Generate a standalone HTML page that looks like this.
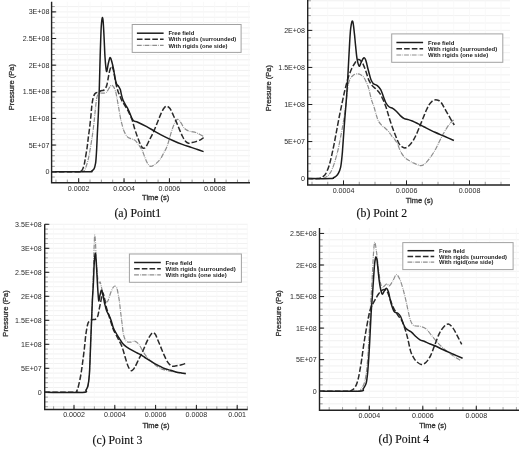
<!DOCTYPE html>
<html><head><meta charset="utf-8"><style>
html,body{margin:0;padding:0;background:#fff;}
body{width:520px;height:450px;overflow:hidden;}
svg{display:block;filter:blur(0.25px);}
.tk{font-family:"Liberation Sans",Arial,sans-serif;font-size:7.1px;fill:#2a2a2a;}
.at{font-family:"Liberation Sans",Arial,sans-serif;font-size:7.5px;fill:#2a2a2a;stroke:#333;stroke-width:0.3px;}
.lg{font-family:"Liberation Sans",Arial,sans-serif;font-size:5.9px;font-weight:bold;fill:#1a1a1a;}
.cap{font-family:"Liberation Serif","Times New Roman",serif;font-size:11.8px;fill:#111;stroke:#111;stroke-width:0.15px;}
</style></head><body>
<svg width="520" height="450" viewBox="0 0 520 450">
<path d="M51.6 177.03H250M51.6 171.7H250M51.6 166.37H250M51.6 161.05H250M51.6 155.72H250M51.6 150.39H250M51.6 145.06H250M51.6 139.74H250M51.6 134.41H250M51.6 129.08H250M51.6 123.76H250M51.6 118.43H250M51.6 113.1H250M51.6 107.78H250M51.6 102.45H250M51.6 97.12H250M51.6 91.79H250M51.6 86.47H250M51.6 81.14H250M51.6 75.81H250M51.6 70.49H250M51.6 65.16H250M51.6 59.83H250M51.6 54.51H250M51.6 49.18H250M51.6 43.85H250M51.6 38.52H250M51.6 33.2H250M51.6 27.87H250M51.6 22.54H250M51.6 17.22H250M51.6 11.89H250M51.6 6.56H250" stroke="#eeeeee" stroke-width="0.8" fill="none"/>
<path d="M55.98 1.8V182.8M67.33 1.8V182.8M78.67 1.8V182.8M90.01 1.8V182.8M101.36 1.8V182.8M112.7 1.8V182.8M124.04 1.8V182.8M135.38 1.8V182.8M146.72 1.8V182.8M158.07 1.8V182.8M169.41 1.8V182.8M180.75 1.8V182.8M192.09 1.8V182.8M203.44 1.8V182.8M214.78 1.8V182.8M226.12 1.8V182.8M237.46 1.8V182.8M248.81 1.8V182.8" stroke="#f7f7f7" stroke-width="0.8" fill="none"/>
<path d="M51.30 171.70 C56.33 171.70 76.13 171.82 81.50 171.70 C86.87 171.58 82.92 171.33 83.50 171.00 C84.08 170.67 84.20 171.70 85.00 169.70 C85.80 167.70 87.30 163.23 88.30 159.00 C89.30 154.77 90.22 148.97 91.00 144.30 C91.78 139.63 92.40 135.55 93.00 131.00 C93.60 126.45 94.15 121.17 94.60 117.00 C95.05 112.83 95.33 109.17 95.70 106.00 C96.07 102.83 96.37 100.00 96.80 98.00 C97.23 96.00 97.68 94.83 98.30 94.00 C98.92 93.17 99.63 93.13 100.50 93.00 C101.37 92.87 102.53 93.30 103.50 93.20 C104.47 93.10 105.50 93.02 106.30 92.40 C107.10 91.78 107.60 90.57 108.30 89.50 C109.00 88.43 109.88 86.70 110.50 86.00 C111.12 85.30 111.53 85.22 112.00 85.30 C112.47 85.38 112.72 85.55 113.30 86.50 C113.88 87.45 114.83 88.75 115.50 91.00 C116.17 93.25 116.75 97.08 117.30 100.00 C117.85 102.92 118.30 105.67 118.80 108.50 C119.30 111.33 119.85 114.67 120.30 117.00 C120.75 119.33 120.90 120.20 121.50 122.50 C122.10 124.80 122.92 128.42 123.90 130.80 C124.88 133.18 126.13 135.47 127.40 136.80 C128.67 138.13 130.22 138.20 131.50 138.80 C132.78 139.40 133.88 139.37 135.10 140.40 C136.32 141.43 137.62 143.33 138.80 145.00 C139.98 146.67 141.18 148.32 142.20 150.40 C143.22 152.48 144.02 155.35 144.90 157.50 C145.78 159.65 146.55 161.82 147.50 163.30 C148.45 164.78 149.42 166.17 150.60 166.40 C151.78 166.63 153.03 165.85 154.60 164.70 C156.17 163.55 158.43 161.53 160.00 159.50 C161.57 157.47 162.80 154.75 164.00 152.50 C165.20 150.25 165.95 149.50 167.20 146.00 C168.45 142.50 170.37 135.08 171.50 131.50 C172.63 127.92 173.20 126.38 174.00 124.50 C174.80 122.62 175.58 121.02 176.30 120.20 C177.02 119.38 177.52 119.17 178.30 119.60 C179.08 120.03 180.05 121.43 181.00 122.80 C181.95 124.17 182.95 126.53 184.00 127.80 C185.05 129.07 186.13 129.77 187.30 130.40 C188.47 131.03 189.58 131.25 191.00 131.60 C192.42 131.95 194.37 132.05 195.80 132.50 C197.23 132.95 198.30 133.65 199.60 134.30 C200.90 134.95 202.93 136.05 203.60 136.40" stroke="#8e8e8e" stroke-width="1.2" fill="none" stroke-linejoin="round" stroke-dasharray="4.8 1.2 0.7 1.0"/>
<path d="M51.30 171.70 C55.92 171.70 74.05 171.78 79.00 171.70 C83.95 171.62 80.42 171.57 81.00 171.20 C81.58 170.83 82.00 170.45 82.50 169.50 C83.00 168.55 83.58 167.03 84.00 165.50 C84.42 163.97 84.50 163.17 85.00 160.30 C85.50 157.43 86.45 152.07 87.00 148.30 C87.55 144.53 87.85 141.25 88.30 137.70 C88.75 134.15 89.25 130.78 89.70 127.00 C90.15 123.22 90.65 118.50 91.00 115.00 C91.35 111.50 91.47 108.75 91.80 106.00 C92.13 103.25 92.52 100.50 93.00 98.50 C93.48 96.50 94.12 94.98 94.70 94.00 C95.28 93.02 95.87 92.90 96.50 92.60 C97.13 92.30 97.75 92.50 98.50 92.20 C99.25 91.90 100.17 91.12 101.00 90.80 C101.83 90.48 102.75 90.72 103.50 90.30 C104.25 89.88 104.92 89.27 105.50 88.30 C106.08 87.33 106.52 86.38 107.00 84.50 C107.48 82.62 107.92 79.42 108.40 77.00 C108.88 74.58 109.37 71.78 109.90 70.00 C110.43 68.22 111.08 66.52 111.60 66.30 C112.12 66.08 112.55 67.33 113.00 68.70 C113.45 70.07 113.82 72.03 114.30 74.50 C114.78 76.97 115.30 80.75 115.90 83.50 C116.50 86.25 117.27 89.00 117.90 91.00 C118.53 93.00 118.97 93.75 119.70 95.50 C120.43 97.25 121.33 99.67 122.30 101.50 C123.27 103.33 124.42 104.70 125.50 106.50 C126.58 108.30 127.73 110.17 128.80 112.30 C129.87 114.43 130.95 116.65 131.90 119.30 C132.85 121.95 133.62 125.38 134.50 128.20 C135.38 131.02 136.30 133.68 137.20 136.20 C138.10 138.72 139.10 141.47 139.90 143.30 C140.70 145.13 141.38 146.37 142.00 147.20 C142.62 148.03 142.93 148.37 143.60 148.30 C144.27 148.23 145.00 148.23 146.00 146.80 C147.00 145.37 148.40 142.07 149.60 139.70 C150.80 137.33 151.87 135.55 153.20 132.60 C154.53 129.65 156.27 125.25 157.60 122.00 C158.93 118.75 160.08 115.47 161.20 113.10 C162.32 110.73 163.37 108.95 164.30 107.80 C165.23 106.65 165.85 106.08 166.80 106.20 C167.75 106.32 168.92 107.00 170.00 108.50 C171.08 110.00 172.22 112.88 173.30 115.20 C174.38 117.52 175.47 120.00 176.50 122.40 C177.53 124.80 178.53 127.33 179.50 129.60 C180.47 131.87 181.30 134.05 182.30 136.00 C183.30 137.95 184.47 140.10 185.50 141.30 C186.53 142.50 187.42 142.98 188.50 143.20 C189.58 143.42 190.78 142.87 192.00 142.60 C193.22 142.33 194.40 142.07 195.80 141.60 C197.20 141.13 199.10 140.47 200.40 139.80 C201.70 139.13 203.07 137.97 203.60 137.60" stroke="#2a2a2a" stroke-width="1.5" fill="none" stroke-linejoin="round" stroke-dasharray="5.6 2.1"/>
<path d="M51.30 171.70 C57.47 171.72 81.60 171.88 88.30 171.80 C95.00 171.72 90.62 171.57 91.50 171.20 C92.38 170.83 93.08 170.20 93.60 169.60 C94.12 169.00 94.32 168.45 94.60 167.60 C94.88 166.75 95.10 165.48 95.30 164.50 C95.50 163.52 95.63 163.28 95.80 161.70 C95.97 160.12 96.15 157.22 96.30 155.00 C96.45 152.78 96.53 151.73 96.70 148.40 C96.87 145.07 97.12 138.90 97.30 135.00 C97.48 131.10 97.63 128.33 97.80 125.00 C97.97 121.67 98.12 119.17 98.30 115.00 C98.48 110.83 98.72 105.00 98.90 100.00 C99.08 95.00 99.25 90.00 99.40 85.00 C99.55 80.00 99.67 75.00 99.80 70.00 C99.93 65.00 100.05 60.00 100.20 55.00 C100.35 50.00 100.52 44.83 100.70 40.00 C100.88 35.17 101.03 29.72 101.30 26.00 C101.57 22.28 101.98 18.37 102.30 17.70 C102.62 17.03 102.90 18.62 103.20 22.00 C103.50 25.38 103.80 32.17 104.10 38.00 C104.40 43.83 104.68 51.92 105.00 57.00 C105.32 62.08 105.70 66.12 106.00 68.50 C106.30 70.88 106.43 72.05 106.80 71.30 C107.17 70.55 107.73 66.13 108.20 64.00 C108.67 61.87 109.23 59.53 109.60 58.50 C109.97 57.47 110.05 57.33 110.40 57.80 C110.75 58.27 111.17 59.38 111.70 61.30 C112.23 63.22 113.05 66.52 113.60 69.30 C114.15 72.08 114.52 75.58 115.00 78.00 C115.48 80.42 115.92 82.43 116.50 83.80 C117.08 85.17 117.87 85.25 118.50 86.20 C119.13 87.15 119.80 88.03 120.30 89.50 C120.80 90.97 121.05 93.25 121.50 95.00 C121.95 96.75 122.33 98.37 123.00 100.00 C123.67 101.63 124.75 103.47 125.50 104.80 C126.25 106.13 126.83 106.72 127.50 108.00 C128.17 109.28 128.77 110.78 129.50 112.50 C130.23 114.22 131.12 116.85 131.90 118.30 C132.68 119.75 133.22 120.55 134.20 121.20 C135.18 121.85 135.72 121.30 137.80 122.20 C139.88 123.10 143.73 125.00 146.70 126.60 C149.67 128.20 152.63 130.13 155.60 131.80 C158.57 133.47 161.53 135.10 164.50 136.60 C167.47 138.10 170.43 139.50 173.40 140.80 C176.37 142.10 179.33 143.30 182.30 144.40 C185.27 145.50 188.67 146.55 191.20 147.40 C193.73 148.25 195.43 148.80 197.50 149.50 C199.57 150.20 202.58 151.25 203.60 151.60" stroke="#1c1c1c" stroke-width="1.5" fill="none" stroke-linejoin="round"/>
<path d="M51.6 177.03h3.2M51.6 171.7h3.2M51.6 166.37h3.2M51.6 161.05h3.2M51.6 155.72h3.2M51.6 150.39h3.2M51.6 145.06h3.2M51.6 139.74h3.2M51.6 134.41h3.2M51.6 129.08h3.2M51.6 123.76h3.2M51.6 118.43h3.2M51.6 113.1h3.2M51.6 107.78h3.2M51.6 102.45h3.2M51.6 97.12h3.2M51.6 91.79h3.2M51.6 86.47h3.2M51.6 81.14h3.2M51.6 75.81h3.2M51.6 70.49h3.2M51.6 65.16h3.2M51.6 59.83h3.2M51.6 54.51h3.2M51.6 49.18h3.2M51.6 43.85h3.2M51.6 38.52h3.2M51.6 33.2h3.2M51.6 27.87h3.2M51.6 22.54h3.2M51.6 17.22h3.2M51.6 11.89h3.2M51.6 6.56h3.2M55.98 182.8v-3.2M67.33 182.8v-3.2M78.67 182.8v-3.2M90.01 182.8v-3.2M101.36 182.8v-3.2M112.7 182.8v-3.2M124.04 182.8v-3.2M135.38 182.8v-3.2M146.72 182.8v-3.2M158.07 182.8v-3.2M169.41 182.8v-3.2M180.75 182.8v-3.2M192.09 182.8v-3.2M203.44 182.8v-3.2M214.78 182.8v-3.2M226.12 182.8v-3.2M237.46 182.8v-3.2M248.81 182.8v-3.2" stroke="#858585" stroke-width="0.8" fill="none"/>
<path d="M51.6 171.7h4.6M51.6 145.06h4.6M51.6 118.43h4.6M51.6 91.79h4.6M51.6 65.16h4.6M51.6 38.52h4.6M51.6 11.89h4.6M78.67 182.8v-4.6M124.04 182.8v-4.6M169.41 182.8v-4.6M214.78 182.8v-4.6" stroke="#222" stroke-width="1" fill="none"/>
<path d="M51.6 1.8V182.8H250" stroke="#222" stroke-width="1.4" fill="none"/>
<text x="49.4" y="174.2" class="tk" text-anchor="end">0</text>
<text x="49.4" y="147.56" class="tk" text-anchor="end">5E+07</text>
<text x="49.4" y="120.93" class="tk" text-anchor="end">1E+08</text>
<text x="49.4" y="94.29" class="tk" text-anchor="end">1.5E+08</text>
<text x="49.4" y="67.66" class="tk" text-anchor="end">2E+08</text>
<text x="49.4" y="41.02" class="tk" text-anchor="end">2.5E+08</text>
<text x="49.4" y="14.39" class="tk" text-anchor="end">3E+08</text>
<text x="78.67" y="191" class="tk" text-anchor="middle">0.0002</text>
<text x="124.04" y="191" class="tk" text-anchor="middle">0.0004</text>
<text x="169.41" y="191" class="tk" text-anchor="middle">0.0006</text>
<text x="214.78" y="191" class="tk" text-anchor="middle">0.0008</text>
<text x="0" y="0" class="at" text-anchor="middle" transform="translate(14.3 87.2) rotate(-90)">Pressure (Pa)</text>
<text x="155.7" y="200.3" class="at" text-anchor="middle">Time (s)</text>
<rect x="132.2" y="24.5" width="108.9" height="27.9" fill="#fff" stroke="#a2a2a2" stroke-width="1"/>
<path d="M136.9 33.2h26.7" stroke="#1c1c1c" stroke-width="1.5"/>
<text x="168.4" y="35.3" class="lg" style="font-size:5.82px">Free field</text>
<path d="M136.9 39.3h26.7" stroke="#2a2a2a" stroke-width="1.5" stroke-dasharray="5.6 2.1"/>
<text x="168.4" y="41.4" class="lg" style="font-size:5.82px">With rigids (surrounded)</text>
<path d="M136.9 45.4h26.7" stroke="#8e8e8e" stroke-width="1.2" stroke-dasharray="4.8 1.2 0.7 1.0"/>
<text x="168.4" y="47.5" class="lg" style="font-size:5.82px">With rigids (one side)</text>
<text x="114.4" y="216.6" class="cap">(a) Point1</text>
<path d="M307.7 178.6H510M307.7 171.19H510M307.7 163.78H510M307.7 156.37H510M307.7 148.96H510M307.7 141.55H510M307.7 134.14H510M307.7 126.73H510M307.7 119.32H510M307.7 111.91H510M307.7 104.5H510M307.7 97.09H510M307.7 89.68H510M307.7 82.27H510M307.7 74.86H510M307.7 67.45H510M307.7 60.04H510M307.7 52.63H510M307.7 45.22H510M307.7 37.81H510M307.7 30.4H510M307.7 22.99H510M307.7 15.58H510M307.7 8.17H510M307.7 0.76H510" stroke="#eeeeee" stroke-width="0.8" fill="none"/>
<path d="M312 0V185M327.75 0V185M343.5 0V185M359.25 0V185M375 0V185M390.75 0V185M406.5 0V185M422.25 0V185M438 0V185M453.75 0V185M469.5 0V185M485.25 0V185M501 0V185" stroke="#f7f7f7" stroke-width="0.8" fill="none"/>
<path d="M307.70 178.60 C310.08 178.60 319.12 178.78 322.00 178.60 C324.88 178.42 324.08 177.92 325.00 177.50 C325.92 177.08 326.53 177.02 327.50 176.10 C328.47 175.18 329.68 174.08 330.80 172.00 C331.92 169.92 333.08 166.93 334.20 163.60 C335.32 160.27 336.53 155.88 337.50 152.00 C338.47 148.12 339.17 144.47 340.00 140.30 C340.83 136.13 341.73 131.33 342.50 127.00 C343.27 122.67 344.02 118.25 344.60 114.30 C345.18 110.35 345.57 106.97 346.00 103.30 C346.43 99.63 346.82 95.47 347.20 92.30 C347.58 89.13 347.82 86.52 348.30 84.30 C348.78 82.08 349.22 80.57 350.10 79.00 C350.98 77.43 352.42 75.75 353.60 74.90 C354.78 74.05 356.02 73.93 357.20 73.90 C358.38 73.87 359.52 74.00 360.70 74.70 C361.88 75.40 363.28 76.67 364.30 78.10 C365.32 79.53 366.07 81.60 366.80 83.30 C367.53 85.00 367.95 85.68 368.70 88.30 C369.45 90.92 370.42 95.88 371.30 99.00 C372.18 102.12 373.10 104.12 374.00 107.00 C374.90 109.88 375.92 113.87 376.70 116.30 C377.48 118.73 377.82 120.05 378.70 121.60 C379.58 123.15 380.90 124.48 382.00 125.60 C383.10 126.72 384.18 127.30 385.30 128.30 C386.42 129.30 387.58 130.27 388.70 131.60 C389.82 132.93 390.95 134.93 392.00 136.30 C393.05 137.67 394.05 138.47 395.00 139.80 C395.95 141.13 396.82 142.43 397.70 144.30 C398.58 146.17 399.20 148.88 400.30 151.00 C401.40 153.12 402.73 155.33 404.30 157.00 C405.87 158.67 407.92 159.90 409.70 161.00 C411.48 162.10 413.23 162.83 415.00 163.60 C416.77 164.37 418.75 165.48 420.30 165.60 C421.85 165.72 422.73 165.52 424.30 164.30 C425.87 163.08 427.92 160.63 429.70 158.30 C431.48 155.97 433.45 152.97 435.00 150.30 C436.55 147.63 437.67 144.97 439.00 142.30 C440.33 139.63 441.67 136.75 443.00 134.30 C444.33 131.85 445.67 129.60 447.00 127.60 C448.33 125.60 449.87 123.58 451.00 122.30 C452.13 121.02 453.33 120.30 453.80 119.90" stroke="#8e8e8e" stroke-width="1.2" fill="none" stroke-linejoin="round" stroke-dasharray="4.8 1.2 0.7 1.0"/>
<path d="M307.70 178.60 C309.42 178.60 315.87 178.72 318.00 178.60 C320.13 178.48 319.75 178.17 320.50 177.90 C321.25 177.63 321.62 177.72 322.50 177.00 C323.38 176.28 324.68 175.55 325.80 173.60 C326.92 171.65 328.22 168.35 329.20 165.30 C330.18 162.25 330.87 158.92 331.70 155.30 C332.53 151.68 333.37 147.77 334.20 143.60 C335.03 139.43 335.87 134.73 336.70 130.30 C337.53 125.87 338.45 120.83 339.20 117.00 C339.95 113.17 340.48 110.75 341.20 107.30 C341.92 103.85 342.77 99.63 343.50 96.30 C344.23 92.97 344.80 90.47 345.60 87.30 C346.40 84.13 347.25 80.47 348.30 77.30 C349.35 74.13 350.72 70.82 351.90 68.30 C353.08 65.78 354.37 63.67 355.40 62.20 C356.43 60.73 357.28 59.82 358.10 59.50 C358.92 59.18 359.42 59.42 360.30 60.30 C361.18 61.18 362.43 62.87 363.40 64.80 C364.37 66.73 365.22 69.38 366.10 71.90 C366.98 74.42 367.68 77.62 368.70 79.90 C369.72 82.18 370.98 84.08 372.20 85.60 C373.42 87.12 374.70 87.67 376.00 89.00 C377.30 90.33 378.78 91.72 380.00 93.60 C381.22 95.48 382.30 98.07 383.30 100.30 C384.30 102.53 385.22 104.78 386.00 107.00 C386.78 109.22 387.33 111.38 388.00 113.60 C388.67 115.82 389.22 117.85 390.00 120.30 C390.78 122.75 391.82 125.85 392.70 128.30 C393.58 130.75 394.25 132.45 395.30 135.00 C396.35 137.55 397.72 141.53 399.00 143.60 C400.28 145.67 401.88 146.70 403.00 147.40 C404.12 148.10 404.58 148.20 405.70 147.80 C406.82 147.40 408.37 146.37 409.70 145.00 C411.03 143.63 412.48 141.60 413.70 139.60 C414.92 137.60 415.90 135.43 417.00 133.00 C418.10 130.57 419.30 127.45 420.30 125.00 C421.30 122.55 422.00 120.75 423.00 118.30 C424.00 115.85 425.30 112.55 426.30 110.30 C427.30 108.05 428.05 106.30 429.00 104.80 C429.95 103.30 431.00 102.12 432.00 101.30 C433.00 100.48 434.00 100.07 435.00 99.90 C436.00 99.73 437.00 99.90 438.00 100.30 C439.00 100.70 439.72 100.63 441.00 102.30 C442.28 103.97 444.03 107.42 445.70 110.30 C447.37 113.18 449.57 117.15 451.00 119.60 C452.43 122.05 453.75 124.10 454.30 125.00" stroke="#2a2a2a" stroke-width="1.5" fill="none" stroke-linejoin="round" stroke-dasharray="5.6 2.1"/>
<path d="M307.70 178.60 C311.53 178.60 326.40 178.75 330.70 178.60 C335.00 178.45 332.62 178.08 333.50 177.70 C334.38 177.32 335.15 177.10 336.00 176.30 C336.85 175.50 337.83 174.40 338.60 172.90 C339.37 171.40 340.10 169.40 340.60 167.30 C341.10 165.20 341.30 162.85 341.60 160.30 C341.90 157.75 342.07 156.17 342.40 152.00 C342.73 147.83 343.20 140.87 343.60 135.30 C344.00 129.73 344.40 123.77 344.80 118.60 C345.20 113.43 345.65 108.68 346.00 104.30 C346.35 99.92 346.60 96.85 346.90 92.30 C347.20 87.75 347.50 82.33 347.80 77.00 C348.10 71.67 348.40 65.87 348.70 60.30 C349.00 54.73 349.32 48.43 349.60 43.60 C349.88 38.77 350.13 34.43 350.40 31.30 C350.67 28.17 350.90 26.52 351.20 24.80 C351.50 23.08 351.88 21.33 352.20 21.00 C352.52 20.67 352.83 21.62 353.10 22.80 C353.37 23.98 353.53 25.85 353.80 28.10 C354.07 30.35 354.40 33.33 354.70 36.30 C355.00 39.27 355.20 42.08 355.60 45.90 C356.00 49.72 356.50 55.83 357.10 59.20 C357.70 62.57 358.53 65.55 359.20 66.10 C359.87 66.65 360.47 63.72 361.10 62.50 C361.73 61.28 362.45 59.57 363.00 58.80 C363.55 58.03 363.97 57.73 364.40 57.90 C364.83 58.07 365.22 58.85 365.60 59.80 C365.98 60.75 366.33 62.18 366.70 63.60 C367.07 65.02 367.33 66.43 367.80 68.30 C368.27 70.17 368.97 72.88 369.50 74.80 C370.03 76.72 370.37 78.33 371.00 79.80 C371.63 81.27 372.25 82.63 373.30 83.60 C374.35 84.57 376.07 84.60 377.30 85.60 C378.53 86.60 379.70 87.82 380.70 89.60 C381.70 91.38 382.42 94.07 383.30 96.30 C384.18 98.53 385.00 101.22 386.00 103.00 C387.00 104.78 388.18 106.12 389.30 107.00 C390.42 107.88 391.58 107.63 392.70 108.30 C393.82 108.97 394.73 109.78 396.00 111.00 C397.27 112.22 398.92 114.33 400.30 115.60 C401.68 116.87 402.97 117.93 404.30 118.60 C405.63 119.27 406.97 119.20 408.30 119.60 C409.63 120.00 410.73 120.33 412.30 121.00 C413.87 121.67 415.70 122.60 417.70 123.60 C419.70 124.60 421.42 125.55 424.30 127.00 C427.18 128.45 431.67 130.75 435.00 132.30 C438.33 133.85 441.15 134.93 444.30 136.30 C447.45 137.67 452.30 139.80 453.90 140.50" stroke="#1c1c1c" stroke-width="1.5" fill="none" stroke-linejoin="round"/>
<path d="M307.7 178.6h3.2M307.7 171.19h3.2M307.7 163.78h3.2M307.7 156.37h3.2M307.7 148.96h3.2M307.7 141.55h3.2M307.7 134.14h3.2M307.7 126.73h3.2M307.7 119.32h3.2M307.7 111.91h3.2M307.7 104.5h3.2M307.7 97.09h3.2M307.7 89.68h3.2M307.7 82.27h3.2M307.7 74.86h3.2M307.7 67.45h3.2M307.7 60.04h3.2M307.7 52.63h3.2M307.7 45.22h3.2M307.7 37.81h3.2M307.7 30.4h3.2M307.7 22.99h3.2M307.7 15.58h3.2M307.7 8.17h3.2M307.7 0.76h3.2M312 185v-3.2M327.75 185v-3.2M343.5 185v-3.2M359.25 185v-3.2M375 185v-3.2M390.75 185v-3.2M406.5 185v-3.2M422.25 185v-3.2M438 185v-3.2M453.75 185v-3.2M469.5 185v-3.2M485.25 185v-3.2M501 185v-3.2" stroke="#858585" stroke-width="0.8" fill="none"/>
<path d="M307.7 178.6h4.6M307.7 141.55h4.6M307.7 104.5h4.6M307.7 67.45h4.6M307.7 30.4h4.6M343.5 185v-4.6M406.5 185v-4.6M469.5 185v-4.6" stroke="#222" stroke-width="1" fill="none"/>
<path d="M307.7 0V185H510" stroke="#222" stroke-width="1.4" fill="none"/>
<text x="304.9" y="181.1" class="tk" text-anchor="end">0</text>
<text x="304.9" y="144.05" class="tk" text-anchor="end">5E+07</text>
<text x="304.9" y="107" class="tk" text-anchor="end">1E+08</text>
<text x="304.9" y="69.95" class="tk" text-anchor="end">1.5E+08</text>
<text x="304.9" y="32.9" class="tk" text-anchor="end">2E+08</text>
<text x="343.5" y="192.8" class="tk" text-anchor="middle">0.0004</text>
<text x="406.5" y="192.8" class="tk" text-anchor="middle">0.0006</text>
<text x="469.5" y="192.8" class="tk" text-anchor="middle">0.0008</text>
<text x="0" y="0" class="at" text-anchor="middle" transform="translate(270.8 88.2) rotate(-90)">Pressure (Pa)</text>
<text x="419.4" y="202.8" class="at" text-anchor="middle">Time (s)</text>
<rect x="391.7" y="33.9" width="111.1" height="28.4" fill="#fff" stroke="#a2a2a2" stroke-width="1"/>
<path d="M396.4 42.5h26.7" stroke="#1c1c1c" stroke-width="1.5"/>
<text x="427.9" y="44.6" class="lg" style="font-size:5.94px">Free field</text>
<path d="M396.4 48.75h26.7" stroke="#2a2a2a" stroke-width="1.5" stroke-dasharray="5.6 2.1"/>
<text x="427.9" y="50.85" class="lg" style="font-size:5.94px">With rigids (surrounded)</text>
<path d="M396.4 55h26.7" stroke="#8e8e8e" stroke-width="1.2" stroke-dasharray="4.8 1.2 0.7 1.0"/>
<text x="427.9" y="57.1" class="lg" style="font-size:5.94px">With rigids (one side)</text>
<text x="356.6" y="217" class="cap">(b) Point 2</text>
<path d="M44.7 406.7H247.7M44.7 401.9H247.7M44.7 397.1H247.7M44.7 392.3H247.7M44.7 387.5H247.7M44.7 382.7H247.7M44.7 377.9H247.7M44.7 373.1H247.7M44.7 368.3H247.7M44.7 363.5H247.7M44.7 358.7H247.7M44.7 353.9H247.7M44.7 349.1H247.7M44.7 344.3H247.7M44.7 339.5H247.7M44.7 334.7H247.7M44.7 329.9H247.7M44.7 325.1H247.7M44.7 320.3H247.7M44.7 315.5H247.7M44.7 310.7H247.7M44.7 305.9H247.7M44.7 301.1H247.7M44.7 296.3H247.7M44.7 291.5H247.7M44.7 286.7H247.7M44.7 281.9H247.7M44.7 277.1H247.7M44.7 272.3H247.7M44.7 267.5H247.7M44.7 262.7H247.7M44.7 257.9H247.7M44.7 253.1H247.7M44.7 248.3H247.7M44.7 243.5H247.7M44.7 238.7H247.7M44.7 233.9H247.7M44.7 229.1H247.7M44.7 224.3H247.7" stroke="#eeeeee" stroke-width="0.8" fill="none"/>
<path d="M53.6 224.3V409.5M63.8 224.3V409.5M74 224.3V409.5M84.2 224.3V409.5M94.4 224.3V409.5M104.6 224.3V409.5M114.8 224.3V409.5M125 224.3V409.5M135.2 224.3V409.5M145.4 224.3V409.5M155.6 224.3V409.5M165.8 224.3V409.5M176 224.3V409.5M186.2 224.3V409.5M196.4 224.3V409.5M206.6 224.3V409.5M216.8 224.3V409.5M227 224.3V409.5M237.2 224.3V409.5M247.4 224.3V409.5" stroke="#f7f7f7" stroke-width="0.8" fill="none"/>
<path d="M44.70 392.30 C51.00 392.30 75.62 392.68 82.50 392.30 C89.38 391.92 85.08 391.13 86.00 390.00 C86.92 388.87 87.43 388.17 88.00 385.50 C88.57 382.83 89.02 379.37 89.40 374.00 C89.78 368.63 90.05 359.52 90.30 353.30 C90.55 347.08 90.68 342.25 90.90 336.70 C91.12 331.15 91.35 326.12 91.60 320.00 C91.85 313.88 92.15 306.67 92.40 300.00 C92.65 293.33 92.88 286.67 93.10 280.00 C93.32 273.33 93.52 265.83 93.70 260.00 C93.88 254.17 94.03 249.13 94.20 245.00 C94.37 240.87 94.50 235.87 94.70 235.20 C94.90 234.53 95.15 237.20 95.40 241.00 C95.65 244.80 95.90 252.67 96.20 258.00 C96.50 263.33 96.85 269.08 97.20 273.00 C97.55 276.92 97.95 279.83 98.30 281.50 C98.65 283.17 98.98 282.92 99.30 283.00 C99.62 283.08 99.87 281.42 100.20 282.00 C100.53 282.58 100.78 284.28 101.30 286.50 C101.82 288.72 102.68 293.05 103.30 295.30 C103.92 297.55 104.52 298.92 105.00 300.00 C105.48 301.08 105.70 301.68 106.20 301.80 C106.70 301.92 107.25 302.22 108.00 300.70 C108.75 299.18 109.82 294.93 110.70 292.70 C111.58 290.47 112.58 288.42 113.30 287.30 C114.02 286.18 114.47 285.97 115.00 286.00 C115.53 286.03 116.08 286.75 116.50 287.50 C116.92 288.25 117.03 288.30 117.50 290.50 C117.97 292.70 118.77 297.00 119.30 300.70 C119.83 304.40 120.25 308.98 120.70 312.70 C121.15 316.42 121.53 319.37 122.00 323.00 C122.47 326.63 122.82 331.50 123.50 334.50 C124.18 337.50 124.97 339.72 126.10 341.00 C127.23 342.28 128.88 342.17 130.30 342.20 C131.72 342.23 133.18 340.85 134.60 341.20 C136.02 341.55 137.28 342.40 138.80 344.30 C140.32 346.20 142.28 350.40 143.70 352.60 C145.12 354.80 145.88 355.87 147.30 357.50 C148.72 359.13 150.77 361.07 152.20 362.40 C153.63 363.73 154.67 364.58 155.90 365.50 C157.13 366.42 158.48 367.25 159.60 367.90 C160.72 368.55 160.87 368.85 162.60 369.40 C164.33 369.95 167.43 370.67 170.00 371.20 C172.57 371.73 175.37 372.17 178.00 372.60 C180.63 373.03 184.50 373.60 185.80 373.80" stroke="#8e8e8e" stroke-width="1.2" fill="none" stroke-linejoin="round" stroke-dasharray="4.8 1.2 0.7 1.0"/>
<path d="M44.70 392.30 C49.75 392.30 69.70 392.43 75.00 392.30 C80.30 392.17 75.95 392.43 76.50 391.50 C77.05 390.57 77.58 389.45 78.30 386.70 C79.02 383.95 80.10 378.90 80.80 375.00 C81.50 371.10 81.93 367.47 82.50 363.30 C83.07 359.13 83.65 354.72 84.20 350.00 C84.75 345.28 85.25 339.17 85.80 335.00 C86.35 330.83 86.97 327.25 87.50 325.00 C88.03 322.75 88.37 322.33 89.00 321.50 C89.63 320.67 90.55 320.33 91.30 320.00 C92.05 319.67 92.83 319.62 93.50 319.50 C94.17 319.38 94.72 319.63 95.30 319.30 C95.88 318.97 96.55 318.17 97.00 317.50 C97.45 316.83 97.62 316.77 98.00 315.30 C98.38 313.83 98.85 310.92 99.30 308.70 C99.75 306.48 100.25 304.23 100.70 302.00 C101.15 299.77 101.65 296.85 102.00 295.30 C102.35 293.75 102.52 292.75 102.80 292.70 C103.08 292.65 103.38 293.87 103.70 295.00 C104.02 296.13 104.32 297.67 104.70 299.50 C105.08 301.33 105.45 303.80 106.00 306.00 C106.55 308.20 107.33 310.48 108.00 312.70 C108.67 314.92 109.33 317.17 110.00 319.30 C110.67 321.43 111.43 323.78 112.00 325.50 C112.57 327.22 112.45 327.52 113.40 329.60 C114.35 331.68 116.28 335.20 117.70 338.00 C119.12 340.80 120.67 343.23 121.90 346.40 C123.13 349.57 124.05 353.65 125.10 357.00 C126.15 360.35 127.15 364.22 128.20 366.50 C129.25 368.78 130.33 370.52 131.40 370.70 C132.47 370.88 133.37 369.53 134.60 367.60 C135.83 365.67 137.50 361.70 138.80 359.10 C140.10 356.50 141.18 354.62 142.40 352.00 C143.62 349.38 144.87 346.05 146.10 343.40 C147.33 340.75 148.68 337.88 149.80 336.10 C150.92 334.32 151.88 333.00 152.80 332.70 C153.72 332.40 154.48 333.12 155.30 334.30 C156.12 335.48 156.78 337.67 157.70 339.80 C158.62 341.93 159.78 344.67 160.80 347.10 C161.82 349.53 162.68 351.95 163.80 354.40 C164.92 356.85 166.27 359.90 167.50 361.80 C168.73 363.70 170.08 365.05 171.20 365.80 C172.32 366.55 173.08 366.35 174.20 366.30 C175.32 366.25 176.67 365.75 177.90 365.50 C179.13 365.25 180.28 365.17 181.60 364.80 C182.92 364.43 185.10 363.55 185.80 363.30" stroke="#2a2a2a" stroke-width="1.5" fill="none" stroke-linejoin="round" stroke-dasharray="5.6 2.1"/>
<path d="M44.70 392.30 C51.00 392.32 75.62 392.78 82.50 392.40 C89.38 392.02 85.08 391.15 86.00 390.00 C86.92 388.85 87.43 388.17 88.00 385.50 C88.57 382.83 89.02 379.37 89.40 374.00 C89.78 368.63 90.05 359.52 90.30 353.30 C90.55 347.08 90.68 342.25 90.90 336.70 C91.12 331.15 91.35 326.12 91.60 320.00 C91.85 313.88 92.12 305.83 92.40 300.00 C92.68 294.17 93.03 290.33 93.30 285.00 C93.57 279.67 93.77 272.67 94.00 268.00 C94.23 263.33 94.48 259.45 94.70 257.00 C94.92 254.55 95.10 253.30 95.30 253.30 C95.50 253.30 95.67 254.22 95.90 257.00 C96.13 259.78 96.45 265.67 96.70 270.00 C96.95 274.33 97.17 279.00 97.40 283.00 C97.63 287.00 97.87 291.00 98.10 294.00 C98.33 297.00 98.52 300.67 98.80 301.00 C99.08 301.33 99.38 297.78 99.80 296.00 C100.22 294.22 100.87 290.88 101.30 290.30 C101.73 289.72 102.07 291.38 102.40 292.50 C102.73 293.62 102.92 295.13 103.30 297.00 C103.68 298.87 104.13 301.37 104.70 303.70 C105.27 306.03 105.93 309.00 106.70 311.00 C107.47 313.00 108.53 314.03 109.30 315.70 C110.07 317.37 110.63 319.00 111.30 321.00 C111.97 323.00 112.52 325.70 113.30 327.70 C114.08 329.70 115.00 331.23 116.00 333.00 C117.00 334.77 118.18 336.55 119.30 338.30 C120.42 340.05 121.57 342.12 122.70 343.50 C123.83 344.88 124.12 345.23 126.10 346.60 C128.08 347.97 132.28 350.40 134.60 351.70 C136.92 353.00 138.28 353.43 140.00 354.40 C141.72 355.37 143.27 356.47 144.90 357.50 C146.53 358.53 148.17 359.58 149.80 360.60 C151.43 361.62 153.07 362.68 154.70 363.60 C156.33 364.52 157.98 365.28 159.60 366.10 C161.22 366.92 162.57 367.80 164.40 368.50 C166.23 369.20 168.55 369.68 170.60 370.30 C172.65 370.92 174.87 371.75 176.70 372.20 C178.53 372.65 180.08 372.77 181.60 373.00 C183.12 373.23 185.10 373.50 185.80 373.60" stroke="#1c1c1c" stroke-width="1.5" fill="none" stroke-linejoin="round"/>
<path d="M44.7 406.7h3.2M44.7 401.9h3.2M44.7 397.1h3.2M44.7 392.3h3.2M44.7 387.5h3.2M44.7 382.7h3.2M44.7 377.9h3.2M44.7 373.1h3.2M44.7 368.3h3.2M44.7 363.5h3.2M44.7 358.7h3.2M44.7 353.9h3.2M44.7 349.1h3.2M44.7 344.3h3.2M44.7 339.5h3.2M44.7 334.7h3.2M44.7 329.9h3.2M44.7 325.1h3.2M44.7 320.3h3.2M44.7 315.5h3.2M44.7 310.7h3.2M44.7 305.9h3.2M44.7 301.1h3.2M44.7 296.3h3.2M44.7 291.5h3.2M44.7 286.7h3.2M44.7 281.9h3.2M44.7 277.1h3.2M44.7 272.3h3.2M44.7 267.5h3.2M44.7 262.7h3.2M44.7 257.9h3.2M44.7 253.1h3.2M44.7 248.3h3.2M44.7 243.5h3.2M44.7 238.7h3.2M44.7 233.9h3.2M44.7 229.1h3.2M44.7 224.3h3.2M53.6 409.5v-3.2M63.8 409.5v-3.2M74 409.5v-3.2M84.2 409.5v-3.2M94.4 409.5v-3.2M104.6 409.5v-3.2M114.8 409.5v-3.2M125 409.5v-3.2M135.2 409.5v-3.2M145.4 409.5v-3.2M155.6 409.5v-3.2M165.8 409.5v-3.2M176 409.5v-3.2M186.2 409.5v-3.2M196.4 409.5v-3.2M206.6 409.5v-3.2M216.8 409.5v-3.2M227 409.5v-3.2M237.2 409.5v-3.2M247.4 409.5v-3.2" stroke="#858585" stroke-width="0.8" fill="none"/>
<path d="M44.7 392.3h4.6M44.7 368.3h4.6M44.7 344.3h4.6M44.7 320.3h4.6M44.7 296.3h4.6M44.7 272.3h4.6M44.7 248.3h4.6M44.7 224.3h4.6M74 409.5v-4.6M114.8 409.5v-4.6M155.6 409.5v-4.6M196.4 409.5v-4.6M237.2 409.5v-4.6" stroke="#222" stroke-width="1" fill="none"/>
<path d="M44.7 224.3V409.5H247.7" stroke="#222" stroke-width="1.4" fill="none"/>
<text x="41.75" y="394.8" class="tk" text-anchor="end">0</text>
<text x="41.75" y="370.8" class="tk" text-anchor="end">5E+07</text>
<text x="41.75" y="346.8" class="tk" text-anchor="end">1E+08</text>
<text x="41.75" y="322.8" class="tk" text-anchor="end">1.5E+08</text>
<text x="41.75" y="298.8" class="tk" text-anchor="end">2E+08</text>
<text x="41.75" y="274.8" class="tk" text-anchor="end">2.5E+08</text>
<text x="41.75" y="250.8" class="tk" text-anchor="end">3E+08</text>
<text x="41.75" y="226.8" class="tk" text-anchor="end">3.5E+08</text>
<text x="74" y="416.5" class="tk" text-anchor="middle">0.0002</text>
<text x="114.8" y="416.5" class="tk" text-anchor="middle">0.0004</text>
<text x="155.6" y="416.5" class="tk" text-anchor="middle">0.0006</text>
<text x="196.4" y="416.5" class="tk" text-anchor="middle">0.0008</text>
<text x="237.2" y="416.5" class="tk" text-anchor="middle">0.001</text>
<text x="0" y="0" class="at" text-anchor="middle" transform="translate(7.5 313.5) rotate(-90)">Pressure (Pa)</text>
<text x="156" y="428.4" class="at" text-anchor="middle">Time (s)</text>
<rect x="129.4" y="254" width="112" height="28.3" fill="#fff" stroke="#a2a2a2" stroke-width="1"/>
<path d="M134.1 262.5h26.7" stroke="#1c1c1c" stroke-width="1.5"/>
<text x="165.6" y="264.6" class="lg" style="font-size:6.02px">Free field</text>
<path d="M134.1 268.65h26.7" stroke="#2a2a2a" stroke-width="1.5" stroke-dasharray="5.6 2.1"/>
<text x="165.6" y="270.75" class="lg" style="font-size:6.02px">With rigids (surrounded)</text>
<path d="M134.1 274.8h26.7" stroke="#8e8e8e" stroke-width="1.2" stroke-dasharray="4.8 1.2 0.7 1.0"/>
<text x="165.6" y="276.9" class="lg" style="font-size:6.02px">With rigids (one side)</text>
<text x="92.5" y="443.5" class="cap">(c) Point 3</text>
<path d="M319.5 403.82H519M319.5 397.51H519M319.5 391.2H519M319.5 384.89H519M319.5 378.58H519M319.5 372.27H519M319.5 365.96H519M319.5 359.65H519M319.5 353.34H519M319.5 347.03H519M319.5 340.72H519M319.5 334.41H519M319.5 328.1H519M319.5 321.79H519M319.5 315.48H519M319.5 309.17H519M319.5 302.86H519M319.5 296.55H519M319.5 290.24H519M319.5 283.93H519M319.5 277.62H519M319.5 271.31H519M319.5 265H519M319.5 258.69H519M319.5 252.38H519M319.5 246.07H519M319.5 239.76H519M319.5 233.45H519" stroke="#eeeeee" stroke-width="0.8" fill="none"/>
<path d="M329.18 228V410.3M342.55 228V410.3M355.93 228V410.3M369.3 228V410.3M382.68 228V410.3M396.05 228V410.3M409.43 228V410.3M422.8 228V410.3M436.18 228V410.3M449.55 228V410.3M462.93 228V410.3M476.3 228V410.3M489.68 228V410.3M503.05 228V410.3M516.42 228V410.3" stroke="#f7f7f7" stroke-width="0.8" fill="none"/>
<path d="M319.50 391.20 C325.75 391.20 350.08 391.60 357.00 391.20 C363.92 390.80 359.87 389.92 361.00 388.80 C362.13 387.68 363.05 386.30 363.80 384.50 C364.55 382.70 365.00 380.58 365.50 378.00 C366.00 375.42 366.35 373.33 366.80 369.00 C367.25 364.67 367.78 358.33 368.20 352.00 C368.62 345.67 368.95 337.83 369.30 331.00 C369.65 324.17 369.98 317.00 370.30 311.00 C370.62 305.00 370.88 300.50 371.20 295.00 C371.52 289.50 371.88 283.83 372.20 278.00 C372.52 272.17 372.82 265.00 373.10 260.00 C373.38 255.00 373.63 250.97 373.90 248.00 C374.17 245.03 374.42 242.62 374.70 242.20 C374.98 241.78 375.27 243.65 375.60 245.50 C375.93 247.35 376.18 249.10 376.70 253.30 C377.22 257.50 378.05 265.67 378.70 270.70 C379.35 275.73 379.98 280.70 380.60 283.50 C381.22 286.30 381.77 287.08 382.40 287.50 C383.03 287.92 383.65 286.62 384.40 286.00 C385.15 285.38 386.05 283.83 386.90 283.80 C387.75 283.77 388.47 286.37 389.50 285.80 C390.53 285.23 391.95 282.27 393.10 280.40 C394.25 278.53 395.28 274.78 396.40 274.60 C397.52 274.42 398.68 276.85 399.80 279.30 C400.92 281.75 402.00 285.40 403.10 289.30 C404.20 293.20 405.32 298.00 406.40 302.70 C407.48 307.40 408.58 313.87 409.60 317.50 C410.62 321.13 411.43 323.08 412.50 324.50 C413.57 325.92 414.65 325.68 416.00 326.00 C417.35 326.32 418.92 325.92 420.60 326.40 C422.28 326.88 424.25 327.37 426.10 328.90 C427.95 330.43 429.85 333.38 431.70 335.60 C433.55 337.82 435.35 340.17 437.20 342.20 C439.05 344.23 440.77 345.95 442.80 347.80 C444.83 349.65 447.18 351.63 449.40 353.30 C451.62 354.97 454.23 356.62 456.10 357.80 C457.97 358.98 459.85 359.97 460.60 360.40" stroke="#8e8e8e" stroke-width="1.2" fill="none" stroke-linejoin="round" stroke-dasharray="4.8 1.2 0.7 1.0"/>
<path d="M319.50 391.20 C324.25 391.20 342.82 391.27 348.00 391.20 C353.18 391.13 349.47 391.40 350.60 390.80 C351.73 390.20 353.58 389.37 354.80 387.60 C356.02 385.83 356.85 384.25 357.90 380.20 C358.95 376.15 360.18 368.83 361.10 363.30 C362.02 357.77 362.65 352.05 363.40 347.00 C364.15 341.95 364.80 337.75 365.60 333.00 C366.40 328.25 367.42 322.42 368.20 318.50 C368.98 314.58 369.58 311.83 370.30 309.50 C371.02 307.17 371.67 306.20 372.50 304.50 C373.33 302.80 374.27 301.08 375.30 299.30 C376.33 297.52 377.58 295.28 378.70 293.80 C379.82 292.32 381.08 291.12 382.00 290.40 C382.92 289.68 383.48 289.48 384.20 289.50 C384.92 289.52 385.70 289.95 386.30 290.50 C386.90 291.05 387.22 291.52 387.80 292.80 C388.38 294.08 388.92 295.82 389.80 298.20 C390.68 300.58 391.80 304.32 393.10 307.10 C394.40 309.88 396.12 312.58 397.60 314.90 C399.08 317.22 400.77 318.65 402.00 321.00 C403.23 323.35 404.07 326.17 405.00 329.00 C405.93 331.83 406.67 334.32 407.60 338.00 C408.53 341.68 409.62 347.85 410.60 351.10 C411.58 354.35 412.58 355.83 413.50 357.50 C414.42 359.17 414.82 359.95 416.10 361.10 C417.38 362.25 419.53 364.22 421.20 364.40 C422.87 364.58 424.53 363.67 426.10 362.20 C427.67 360.73 429.12 358.57 430.60 355.60 C432.08 352.63 433.53 348.12 435.00 344.40 C436.47 340.68 437.92 336.25 439.40 333.30 C440.88 330.35 442.42 328.25 443.90 326.70 C445.38 325.15 446.82 323.82 448.30 324.00 C449.78 324.18 451.32 325.87 452.80 327.80 C454.28 329.73 455.72 332.83 457.20 335.60 C458.68 338.37 460.95 342.93 461.70 344.40" stroke="#2a2a2a" stroke-width="1.5" fill="none" stroke-linejoin="round" stroke-dasharray="5.6 2.1"/>
<path d="M319.50 391.20 C326.08 391.20 351.72 391.62 359.00 391.20 C366.28 390.78 362.17 389.65 363.20 388.70 C364.23 387.75 364.67 386.57 365.20 385.50 C365.73 384.43 366.05 383.88 366.40 382.30 C366.75 380.72 367.05 378.10 367.30 376.00 C367.55 373.90 367.60 373.57 367.90 369.70 C368.20 365.83 368.72 359.13 369.10 352.80 C369.48 346.47 369.85 338.50 370.20 331.70 C370.55 324.90 370.88 317.28 371.20 312.00 C371.52 306.72 371.80 304.17 372.10 300.00 C372.40 295.83 372.72 291.17 373.00 287.00 C373.28 282.83 373.53 278.83 373.80 275.00 C374.07 271.17 374.33 266.75 374.60 264.00 C374.87 261.25 375.15 259.67 375.40 258.50 C375.65 257.33 375.83 256.75 376.10 257.00 C376.37 257.25 376.68 257.95 377.00 260.00 C377.32 262.05 377.62 265.75 378.00 269.30 C378.38 272.85 378.83 277.85 379.30 281.30 C379.77 284.75 380.30 287.85 380.80 290.00 C381.30 292.15 381.72 294.07 382.30 294.20 C382.88 294.33 383.62 291.80 384.30 290.80 C384.98 289.80 385.70 288.00 386.40 288.20 C387.10 288.40 387.75 289.58 388.50 292.00 C389.25 294.42 389.95 299.43 390.90 302.70 C391.85 305.97 393.08 309.88 394.20 311.60 C395.32 313.32 396.53 312.18 397.60 313.00 C398.67 313.82 399.60 314.58 400.60 316.50 C401.60 318.42 402.70 322.48 403.60 324.50 C404.50 326.52 405.18 327.62 406.00 328.60 C406.82 329.58 407.55 329.78 408.50 330.40 C409.45 331.02 410.48 331.28 411.70 332.30 C412.92 333.32 414.42 335.25 415.80 336.50 C417.18 337.75 418.60 339.00 420.00 339.80 C421.40 340.60 422.67 340.67 424.20 341.30 C425.73 341.93 427.40 342.85 429.20 343.60 C431.00 344.35 432.65 344.77 435.00 345.80 C437.35 346.83 440.25 348.40 443.30 349.80 C446.35 351.20 450.08 352.78 453.30 354.20 C456.52 355.62 461.05 357.62 462.60 358.30" stroke="#1c1c1c" stroke-width="1.5" fill="none" stroke-linejoin="round"/>
<path d="M319.5 403.82h3.2M319.5 397.51h3.2M319.5 391.2h3.2M319.5 384.89h3.2M319.5 378.58h3.2M319.5 372.27h3.2M319.5 365.96h3.2M319.5 359.65h3.2M319.5 353.34h3.2M319.5 347.03h3.2M319.5 340.72h3.2M319.5 334.41h3.2M319.5 328.1h3.2M319.5 321.79h3.2M319.5 315.48h3.2M319.5 309.17h3.2M319.5 302.86h3.2M319.5 296.55h3.2M319.5 290.24h3.2M319.5 283.93h3.2M319.5 277.62h3.2M319.5 271.31h3.2M319.5 265h3.2M319.5 258.69h3.2M319.5 252.38h3.2M319.5 246.07h3.2M319.5 239.76h3.2M319.5 233.45h3.2M329.18 410.3v-3.2M342.55 410.3v-3.2M355.93 410.3v-3.2M369.3 410.3v-3.2M382.68 410.3v-3.2M396.05 410.3v-3.2M409.43 410.3v-3.2M422.8 410.3v-3.2M436.18 410.3v-3.2M449.55 410.3v-3.2M462.93 410.3v-3.2M476.3 410.3v-3.2M489.68 410.3v-3.2M503.05 410.3v-3.2M516.42 410.3v-3.2" stroke="#858585" stroke-width="0.8" fill="none"/>
<path d="M319.5 391.2h4.6M319.5 359.65h4.6M319.5 328.1h4.6M319.5 296.55h4.6M319.5 265h4.6M319.5 233.45h4.6M369.3 410.3v-4.6M422.8 410.3v-4.6M476.3 410.3v-4.6" stroke="#222" stroke-width="1" fill="none"/>
<path d="M319.5 228V410.3H519" stroke="#222" stroke-width="1.4" fill="none"/>
<text x="316.7" y="393.7" class="tk" text-anchor="end">0</text>
<text x="316.7" y="362.15" class="tk" text-anchor="end">5E+07</text>
<text x="316.7" y="330.6" class="tk" text-anchor="end">1E+08</text>
<text x="316.7" y="299.05" class="tk" text-anchor="end">1.5E+08</text>
<text x="316.7" y="267.5" class="tk" text-anchor="end">2E+08</text>
<text x="316.7" y="235.95" class="tk" text-anchor="end">2.5E+08</text>
<text x="369.3" y="417.9" class="tk" text-anchor="middle">0.0004</text>
<text x="422.8" y="417.9" class="tk" text-anchor="middle">0.0006</text>
<text x="476.3" y="417.9" class="tk" text-anchor="middle">0.0008</text>
<text x="0" y="0" class="at" text-anchor="middle" transform="translate(280.5 313.3) rotate(-90)">Pressure (Pa)</text>
<text x="432.9" y="427.7" class="at" text-anchor="middle">Time (s)</text>
<rect x="402.8" y="242.6" width="110.3" height="27.0" fill="#fff" stroke="#a2a2a2" stroke-width="1"/>
<path d="M407.5 250.7h26.7" stroke="#1c1c1c" stroke-width="1.5"/>
<text x="439" y="252.8" class="lg" style="font-size:5.84px">Free field</text>
<path d="M407.5 256.45h26.7" stroke="#2a2a2a" stroke-width="1.5" stroke-dasharray="5.6 2.1"/>
<text x="439" y="258.55" class="lg" style="font-size:5.84px">With rigids (surrounded)</text>
<path d="M407.5 262.2h26.7" stroke="#8e8e8e" stroke-width="1.2" stroke-dasharray="4.8 1.2 0.7 1.0"/>
<text x="439" y="264.3" class="lg" style="font-size:5.84px">With rigid(one side)</text>
<text x="378.6" y="443.3" class="cap">(d) Point 4</text>
</svg>
</body></html>
